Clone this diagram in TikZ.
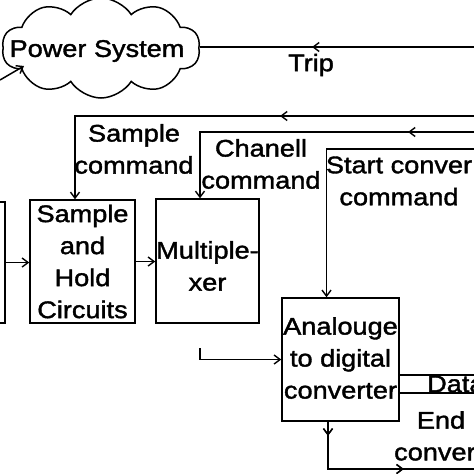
\documentclass[tikz,border=0pt]{standalone}
\usepackage{fontspec}
\setmainfont{Liberation Sans}[FakeStretch=1.13,FakeBold=1.6]
\usetikzlibrary{arrows.meta,shapes.symbols,decorations.markings}
\tikzset{
  ln/.style={line width=1.5pt},
  tip/.tip={Straight Barb[length=6pt,width=9pt,line width=1.4pt]},
  arr/.style={ln,-{tip}},
  blk/.style={draw,ln,rectangle,inner sep=0pt,align=center},
  txt/.style={inner sep=0pt,align=center},
  midarr/.style={postaction={decorate},decoration={markings,mark=at position #1 with {\arrow{tip}}}}
}
\begin{document}
\begin{tikzpicture}[x=1pt,y=-1pt,font=\fontsize{24}{32}\selectfont]
\useasboundingbox (0,0) rectangle (474,474);
\fill[white] (0,0) rectangle (474,474);
\clip (0,0) rectangle (474,474);
% cloud
\node[cloud,draw,ln,cloud puffs=10,cloud puff arc=115,aspect=2.1,minimum width=198pt,minimum height=100pt,inner sep=0pt] (ps) at (101,48) {};
\node[txt] (pst) at (97,51) {Power System};
\coordinate (inL) at (0,80);
\coordinate (inT) at (24,66);
\draw[arr] (inL) -- (inT);
% trip
\coordinate (tripR) at (474,47);
\draw[ln,midarr=162pt] (tripR) -- (ps.east |- tripR);
\node[txt] (trip) at (311,65) {Trip};
% blocks
\node[blk,minimum width=40pt,minimum height=121pt] (lb) at (-15,262.5) {};
\node[blk,minimum width=105pt,minimum height=123pt] (sh) at (82.5,261.5) {Sample\\and\\Hold\\Circuits};
\node[blk,minimum width=103pt,minimum height=124pt] (mux) at (207.5,261) {};
\node[txt] (muxt) at (207.5,266) {Multiple-\\xer};
\node[blk,minimum width=117pt,minimum height=123pt] (adc) at (340.5,359.5) {};
\node[txt] (adct) at (340.5,358) {Analouge\\to digital\\converter};
% block links
\draw[arr] (lb.east) -- (lb.east -| sh.west);
\draw[arr] (sh.east) -- (sh.east -| mux.west);
\coordinate (m1) at (200,348);
\draw[arr] (m1) |- (adc.west);
% sample command
\coordinate (scR) at (474,116);
\draw[ln,-{tip},midarr=194pt] (scR) -| ([xshift=-7.5pt]sh.north);
\node[txt] (sct) at (134,149) {Sample\\command};
% channel command
\coordinate (ccR) at (474,132);
\draw[ln,-{tip},midarr=66pt] (ccR) -| ([xshift=-7.5pt]mux.north);
\node[txt] (cct) at (261,164) {Chanell\\command};
% start conversion
\coordinate (stR) at (474,149);
\draw[ln,-{tip}] (stR) -| ([xshift=-14pt]adc.north);
\node[txt] (stt) at (399,181) {Start conver\\command};
% data
\coordinate (d1) at (474,375);
\coordinate (d2) at (474,393);
\draw[ln] (d1 -| adc.east) -- (d1);
\draw[ln] (d2 -| adc.east) -- (d2);
\node[txt,anchor=west] (data) at (427,384) {Data};
% end conversion
\coordinate (ecR) at (474,469);
\draw[ln,midarr=14pt,midarr=123pt] ([xshift=-12.5pt]adc.south) |- (ecR);
\node[txt] (endt) at (441,420) {End};
\node[txt,anchor=west] (convt) at (394,454) {conver};
\end{tikzpicture}
\end{document}
